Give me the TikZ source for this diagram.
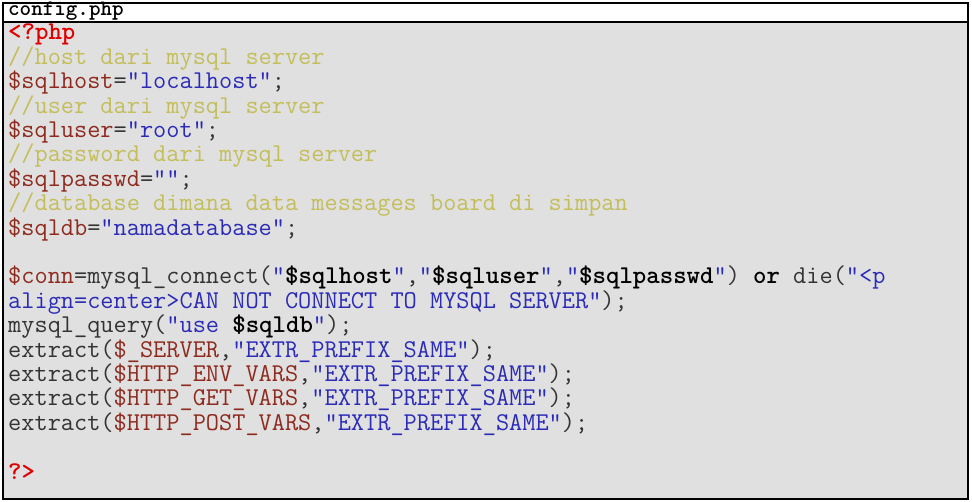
\documentclass[tikz,border=0pt]{standalone}
\usepackage{fontspec}
\definecolor{bgc}{HTML}{E0E0E0}
\definecolor{cmc}{HTML}{C4BE5A}
\definecolor{vrc}{HTML}{8E2A1E}
\definecolor{stc}{HTML}{2B2BB8}
\definecolor{txc}{HTML}{333333}
\definecolor{kwc}{HTML}{E00000}
\newcommand{\cmt}[1]{\textcolor{cmc}{#1}}
\newcommand{\vrb}[1]{\textcolor{vrc}{#1}}
\newcommand{\stt}[1]{\textcolor{stc}{#1}}
\newcommand{\bk}[1]{\textcolor{black}{\bfseries #1}}
\tikzset{codeline/.style={anchor=base west,inner sep=0pt,font=\fontsize{25.6}{26}\ttfamily,text=txc}}
\begin{document}
\begin{tikzpicture}[x=1pt,y=-1pt]
\useasboundingbox (0,0) rectangle (972,502);
\fill[white] (0,0) rectangle (972,502);
\fill[bgc] (3,22) rectangle (968,499);
\draw[line width=2pt] (3,3) rectangle (968,499);
\draw[line width=2pt] (3,22) -- (968,22);
\node[codeline,text=black,font=\fontsize{22}{24}\ttfamily] (h) at (8,16) {\bfseries config.php};
\def\L#1{\fpeval{40+(#1-1)*24.4}}
\node[codeline] (l1) at (8,\L{1}) {\textcolor{kwc}{\bfseries <?php}};
\node[codeline] (l2) at (8,\L{2}) {\cmt{//host dari mysql server}};
\node[codeline] (l3) at (8,\L{3}) {\vrb{\$sqlhost}=\stt{"localhost"};};
\node[codeline] (l4) at (8,\L{4}) {\cmt{//user dari mysql server}};
\node[codeline] (l5) at (8,\L{5}) {\vrb{\$sqluser}=\stt{"root"};};
\node[codeline] (l6) at (8,\L{6}) {\cmt{//password dari mysql server}};
\node[codeline] (l7) at (8,\L{7}) {\vrb{\$sqlpasswd}=\stt{""};};
\node[codeline] (l8) at (8,\L{8}) {\cmt{//database dimana data messages board di simpan}};
\node[codeline] (l9) at (8,\L{9}) {\vrb{\$sqldb}=\stt{"namadatabase"};};
\node[codeline] (l11) at (8,\L{11}) {\vrb{\$conn}=mysql\_connect(\stt{"}\bk{\$sqlhost}\stt{"},\stt{"}\bk{\$sqluser}\stt{"},\stt{"}\bk{\$sqlpasswd}\stt{"}) \bk{or} die(\stt{"<p}};
\node[codeline] (l12) at (8,\L{12}) {\stt{align=center>CAN NOT CONNECT TO MYSQL SERVER"});};
\node[codeline] (l13) at (8,\L{13}) {mysql\_query(\stt{"use }\bk{\$sqldb}\stt{"});};
\node[codeline] (l14) at (8,\L{14}) {extract(\vrb{\$\_SERVER},\stt{"EXTR\_PREFIX\_SAME"});};
\node[codeline] (l15) at (8,\L{15}) {extract(\vrb{\$HTTP\_ENV\_VARS},\stt{"EXTR\_PREFIX\_SAME"});};
\node[codeline] (l16) at (8,\L{16}) {extract(\vrb{\$HTTP\_GET\_VARS},\stt{"EXTR\_PREFIX\_SAME"});};
\node[codeline] (l17) at (8,\L{17}) {extract(\vrb{\$HTTP\_POST\_VARS},\stt{"EXTR\_PREFIX\_SAME"});};
\node[codeline] (l19) at (8,\L{19}) {\textcolor{kwc}{\bfseries ?>}};
\end{tikzpicture}
\end{document}
